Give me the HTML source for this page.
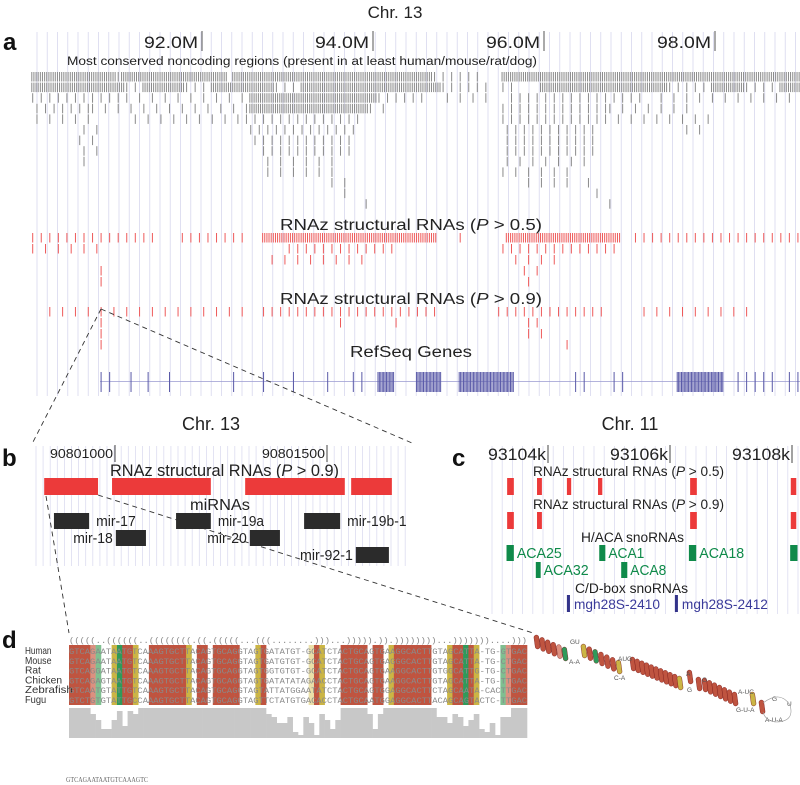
<!DOCTYPE html>
<html><head><meta charset="utf-8"><style>
html,body{margin:0;padding:0;background:#fff;}
svg{display:block;font-family:"Liberation Sans",sans-serif;}
.mono{font-family:"Liberation Mono",monospace;}
</style></head><body>
<svg id="fig" width="800" height="785" viewBox="0 0 800 785" xmlns="http://www.w3.org/2000/svg">
  <g id="gridA"></g>
  <g id="gridB"></g>
  <g id="gridC"></g>

  <text x="395" y="18" font-size="17" text-anchor="middle" fill="#222">Chr. 13</text>
  <text x="3" y="50" font-size="24" font-weight="bold" fill="#111">a</text>
  <g id="axisA"></g>
  <text x="67" y="65" font-size="11.5" textLength="470" lengthAdjust="spacingAndGlyphs" fill="#222">Most conserved noncoding regions (present in at least human/mouse/rat/dog)</text>
  <g id="consA"></g>
  <text x="280" y="230" font-size="15.5" textLength="262" lengthAdjust="spacingAndGlyphs" fill="#222">RNAz structural RNAs (<tspan font-style="italic">P</tspan> &gt; 0.5)</text>
  <g id="r05A"></g>
  <text x="280" y="304" font-size="15.5" textLength="262" lengthAdjust="spacingAndGlyphs" fill="#222">RNAz structural RNAs (<tspan font-style="italic">P</tspan> &gt; 0.9)</text>
  <g id="r09A"></g>
  <text x="350" y="357" font-size="15.5" textLength="122" lengthAdjust="spacingAndGlyphs" fill="#222">RefSeq Genes</text>
  <g id="genesA"></g>

  <g stroke="#333" stroke-width="0.9" stroke-dasharray="5,4" fill="none">
    <line x1="101" y1="309" x2="33" y2="442"/>
    <line x1="101" y1="309" x2="412" y2="443"/>
    <line x1="46" y1="496" x2="69" y2="633"/>
    <line x1="98" y1="495" x2="533" y2="633"/>
  </g>

  <text x="211" y="430" font-size="18" text-anchor="middle" fill="#222">Chr. 13</text>
  <text x="2" y="466" font-size="24" font-weight="bold" fill="#111">b</text>
  <g id="axisB"></g>
  <text x="110" y="476" font-size="16.5" textLength="229" lengthAdjust="spacingAndGlyphs" fill="#222">RNAz structural RNAs (<tspan font-style="italic">P</tspan> &gt; 0.9)</text>
  <g id="rnazB"></g>
  <text x="190" y="510" font-size="15.5" textLength="60" lengthAdjust="spacingAndGlyphs" fill="#222">miRNAs</text>
  <g id="mirB"></g>

  <text x="630" y="430" font-size="18" text-anchor="middle" fill="#222">Chr. 11</text>
  <text x="452" y="466" font-size="24" font-weight="bold" fill="#111">c</text>
  <g id="axisC"></g>
  <text x="533" y="476" font-size="13.5" textLength="191" lengthAdjust="spacingAndGlyphs" fill="#222">RNAz structural RNAs (<tspan font-style="italic">P</tspan> &gt; 0.5)</text>
  <text x="533" y="509" font-size="13.5" textLength="191" lengthAdjust="spacingAndGlyphs" fill="#222">RNAz structural RNAs (<tspan font-style="italic">P</tspan> &gt; 0.9)</text>
  <text x="581" y="542" font-size="13.5" textLength="103" lengthAdjust="spacingAndGlyphs" fill="#222">H/ACA snoRNAs</text>
  <text x="575" y="593" font-size="13.5" textLength="113" lengthAdjust="spacingAndGlyphs" fill="#222">C/D-box snoRNAs</text>
  <g id="featC"></g>

  <text x="2" y="648" font-size="24" font-weight="bold" fill="#111">d</text>
  <g id="alignD"></g>
  <g id="consD"></g>
  <g id="structD"></g>
  <text x="66" y="782" font-size="7" font-family="Liberation Serif, serif" fill="#666" textLength="82" lengthAdjust="spacingAndGlyphs">GTCAGAATAATGTCAAAGTC</text>
</svg>
<script>
// ---------- panel a data ----------
const axisTicksA = [92.0, 94.0, 96.0, 98.0];
const axisLabelsA = ["92.0M", "94.0M", "96.0M", "98.0M"];
const conservedRows = [
  "#20 |1 #25 .1 #47 s11 .5 #70",
  "#22 s4 #10 s6 #15 s6 #33 s12 .2 s4 .5 #30 s10 #8 s8 #10 s6",
  "s22 t29 #30 s12 .4 t10 .5 s32 .3 t35",
  ".1 s13 t37 #28 t4 .27 s25 t20 .25",
  ".1 t13 .10 t26 s27 .33 s24 t25 .21",
  ".12 t4 .35 s26 .34 s22 .20 t6 .21",
  ".11 t5 .36 s24 .35 s21 .48",
  ".12 t4 .38 s22 .35 s21 .48",
  ".12 t3 .40 t18 .38 t20 .49",
  ".55 t16 .39 t18 .52",
  ".70 t6 .40 t10 .4 t2 .48",
  ".73 t2 .57 t2 .46",
  ".78 |1 .56 |1 .44"
];
const rnaz05Rows = [
  "s29 .6 s16 .3 #41 .5 t3 .8 #27 .3 s40",
  "t17 .43 s26 .24 s27 .43",
  ".56 t23 .34 t12 .55",
  ".16 |1 .98 t5 .60",
  ".16 |1 .99 |1 .63"
];
const rnaz09Rows = [
  ".4 t47 .3 s41 .14 s26 .8 t26 .11",
  ".16 |1 .55 t3 .10 t3 .28 s4 .60",
  ".16 |1 .99 t4 .60",
  ".16 |1 .108 |1 .54"
];
const geneRow = ".16 s3 .4 |1 .3 |1 .4 |1 .14 |1 .6 |1 .6 |1 .7 |1 .5 s4 .2 #4 .5 #6 .4 #13 .14 s4 .5 s4 .11 #11 .3 s9 .3 s6";

// ---------- panel b data ----------
const axisTicksB = [1000, 1500];
const axisLabelsB = ["90801000", "90801500"];
const rnazStartB = [833, 993, 1307, 1557];
const rnazEndB = [960, 1226, 1542, 1653];
const mirNames = ["mir-17", "mir-19a", "mir-19b-1", "mir-18", "mir-20", "mir-92-1"];
const mirStart = [856, 1144, 1446, 1002, 1318, 1568];
const mirEnd = [939, 1226, 1531, 1073, 1389, 1646];
const mirRow = [0, 0, 0, 1, 1, 2];
const mirLabelSide = ["right", "right", "right", "left", "left", "left"];

// ---------- panel c data ----------
const axisTicksC = [4, 6, 8];
const axisLabelsC = ["93104k", "93106k", "93108k"];
const r05Start = [3.33, 3.82, 4.31, 4.82, 6.33, 7.98];
const r05End = [3.44, 3.90, 4.38, 4.89, 6.44, 8.07];
const r09Start = [3.33, 3.82, 6.33, 7.98];
const r09End = [3.44, 3.90, 6.44, 8.07];
const acaNames = ["ACA25", "ACA1", "ACA18", "", "ACA32", "ACA8", "ACA40"];
const acaStart = [3.32, 4.84, 6.31, 7.97, 3.80, 5.20, 9.2];
const acaEnd = [3.44, 4.94, 6.43, 8.09, 3.88, 5.30, 9.2];
const acaRow = [0, 0, 0, 0, 1, 1, 1];
const cdNames = ["mgh28S-2410", "mgh28S-2412"];
const cdStart = [4.31, 6.08];
const cdEnd = [4.36, 6.13];

// ---------- panel d data ----------
const speciesNames = ["Human", "Mouse", "Rat", "Chicken", "Zebrafish", "Fugu"];
const sequences = [
  "GTCAGAATAATGTCAAAGTGCTTACAGTGCAGGTAGTGATATGT-GCATCTACTGCAGTGAAGGCACTTGTAGCATTA-TG-GTGAC",
  "GTCAGAATAATGTCAAAGTGCTTACAGTGCAGGTAGTGATGTGT-GCATCTACTGCAGTGAGGGCACTTGTAGCATTA-TG-CTGAC",
  "GTCAGGATAATGTCAAAGTGCTTACAGTGCAGGTAGTGGTGTGT-GCATCTACTGCAGTGAAGGCACTTGTGGCATTG-TG-CTGAC",
  "GTCAGAGTAATGTCAAAGTGCTTACAGTGCAGGTAGTGATATATAGAACCTACTGCAGTGAAGGCACTTGTAGCATTA-TG-TTGAC",
  "GTCAATGTATTGTCAAAGTGCTTACAGTGCAGGTAGTATTATGGAATATCTACTGCAGTGGAGGCACTTCTAGCAATA-CACTTGAC",
  "GTCTGTGTATTGCCAAAGTGCTTACAGTGCAGGTAGTTCTATGTGACACCTACTGCAATGGAGGCACTTACAGCAGTACTC-TTGAC"
];
const structureString = "(((((..((((((..((((((((.((.(((((...(((........)))...))))).)).))))))))...)))))))....)))))";
const columnClasses = "RRRRpg..YGRRY..RRRRRRRY.RR.RRRRR...YR........yRY...RRRRR.RR.YRRRRRRR...YRRGRY....gpRRR";
const conservationDips = [0,0,0,0,2,4,7,7,4,1,6,1,2,0,0,0,0,0,0,0,0,0,0,0,0,0,0,0,0,0,0,0,0,0,0,0,0,2,3,5,5,3,8,9,3,5,9,2,4,7,4,0,0,0,0,0,2,7,2,0,0,0,0,0,0,0,0,0,0,3,3,5,2,3,6,4,2,7,8,5,9,3,3,0,0,0];

// ---------- helpers ----------
const NS = "http://www.w3.org/2000/svg";
function mk(tag, attrs, parent) {
  const e = document.createElementNS(NS, tag);
  for (const k in attrs) e.setAttribute(k, attrs[k]);
  parent.appendChild(e);
  return e;
}
function expandRLE(str) {
  const out = [];
  str.trim().split(/\s+/).forEach(tok => {
    const c = tok[0], n = parseInt(tok.slice(1), 10);
    for (let i = 0; i < n; i++) {
      if (c === 's') out.push(i % 2 === 0 ? '|' : '.');
      else if (c === 't') out.push(i % 3 === 0 ? '|' : '.');
      else out.push(c);
    }
  });
  return out.slice(0, 180);
}
const xA = mb => 202 + (mb - 92) * 85.5;
const binX = i => xA(90 + i * 0.05);
const xB = bp => 115 + (bp - 1000) * 0.424;
const xC = kb => 548 + (kb - 4) * 61;

// ---------- grids ----------
const gA = document.getElementById("gridA");
for (let x = 37; x <= 800; x += 10.25) mk("line", {x1: x, x2: x, y1: 32, y2: 396, stroke: "#dcdcf0", "stroke-width": 0.9}, gA);
const gB = document.getElementById("gridB");
for (let x = 36; x <= 410; x += 7.1) mk("line", {x1: x, x2: x, y1: 446, y2: 566, stroke: "#dcdcf0", "stroke-width": 0.8}, gB);
const gC = document.getElementById("gridC");
for (let x = 492; x <= 800; x += 10.2) mk("line", {x1: x, x2: x, y1: 446, y2: 614, stroke: "#dcdcf0", "stroke-width": 0.8}, gC);

// ---------- panel a ----------
const axA = document.getElementById("axisA");
axisTicksA.forEach((t, i) => {
  const x = xA(t);
  const tk = mk("line", {x1: x, x2: x, y1: 31, y2: 51, stroke: "#555", "stroke-width": 1}, axA);
  
  
  const lb = mk("text", {x: x - 4, y: 48, "font-size": 16.5, "text-anchor": "end", fill: "#222", textLength: 54, lengthAdjust: "spacingAndGlyphs"}, axA);
  lb.textContent = axisLabelsA[i];
  
  
});
function drawRows(rows, parent, y0, dy, h, color, name) {
  rows.forEach((row, r) => {
    const bins = expandRLE(row);
    const y = y0 + r * dy;
    bins.forEach((c, i) => {
      const x = binX(i);
      const xs = c === '#' ? [x + 0.3, x + 2.4] : (c === '|' ? [x + 1.2] : []);
      xs.forEach(xx => {
        const t = mk("rect", {x: xx.toFixed(2), y: y, width: 1, height: h, fill: color}, parent);
        
        
      });
    });
  });
}
drawRows(conservedRows, document.getElementById("consA"), 72, 10.6, 9.5, "#8a8a8a", "conserved-region");
drawRows(rnaz05Rows, document.getElementById("r05A"), 233, 11, 9.5, "#ee5a5a", "rnaz-05-hit");
drawRows(rnaz09Rows, document.getElementById("r09A"), 307, 11, 9.5, "#ee5a5a", "rnaz-09-hit");
const gGenes = document.getElementById("genesA");
const intron = mk("line", {x1: 100, x2: 800, y1: 381.5, y2: 381.5, stroke: "#9a9ad0", "stroke-width": 0.8}, gGenes);


expandRLE(geneRow).forEach((c, i) => {
  if (c === '.') return;
  const x = binX(i);
  const xs = c === '#' ? [x + 0.2, x + 1.6, x + 3.0] : [x + 1.2];
  xs.forEach(xx => {
    const e = mk("rect", {x: xx.toFixed(2), y: 372, width: 1, height: 20, fill: "#5a5aa8"}, gGenes);
    
    
  });
});

// ---------- panel b ----------
const axB = document.getElementById("axisB");
axisTicksB.forEach((t, i) => {
  const x = xB(t);
  const tk = mk("line", {x1: x, x2: x, y1: 445, y2: 462, stroke: "#444", "stroke-width": 1}, axB);
  
  
  const lb = mk("text", {x: x - 2, y: 458, "font-size": 13, "text-anchor": "end", fill: "#222", textLength: 63, lengthAdjust: "spacingAndGlyphs"}, axB);
  lb.textContent = axisLabelsB[i];
  
  
});
const rB = document.getElementById("rnazB");
rnazStartB.forEach((s, i) => {
  const r = mk("rect", {x: xB(s), y: 478, width: xB(rnazEndB[i]) - xB(s), height: 17, fill: "#ec3a3a"}, rB);
  
  
});
const mB = document.getElementById("mirB");
mirNames.forEach((n, i) => {
  const x0 = xB(mirStart[i]), x1 = xB(mirEnd[i]);
  const y = 513 + mirRow[i] * 17;
  const r = mk("rect", {x: x0, y: y, width: x1 - x0, height: 16, fill: "#2b2b2b"}, mB);
  
  
  const right = mirLabelSide[i] === "right";
  const t = mk("text", {x: right ? x1 + 7 : x0 - 3, y: y + 13, "font-size": 14.5, "text-anchor": right ? "start" : "end", fill: "#222", textLength: n.length * 6.6, lengthAdjust: "spacingAndGlyphs"}, mB);
  t.textContent = n;
  
  
});

// ---------- panel c ----------
const axC = document.getElementById("axisC");
axisTicksC.forEach((t, i) => {
  const x = xC(t);
  const tk = mk("line", {x1: x, x2: x, y1: 445, y2: 463, stroke: "#444", "stroke-width": 1}, axC);
  
  
  const lb = mk("text", {x: x - 2, y: 460, "font-size": 17, "text-anchor": "end", fill: "#222", textLength: 58, lengthAdjust: "spacingAndGlyphs"}, axC);
  lb.textContent = axisLabelsC[i];
  
  
});
const fC = document.getElementById("featC");
r05Start.forEach((s, i) => {
  const r = mk("rect", {x: xC(s), y: 478, width: xC(r05End[i]) - xC(s), height: 17, fill: "#ec3a3a"}, fC);
  
  
});
r09Start.forEach((s, i) => {
  const r = mk("rect", {x: xC(s), y: 512, width: xC(r09End[i]) - xC(s), height: 17, fill: "#ec3a3a"}, fC);
  
  
});
acaNames.forEach((n, i) => {
  const y = 545 + acaRow[i] * 17;
  const x0 = xC(acaStart[i]), x1 = xC(acaEnd[i]);
  if (x1 > x0) {
    const r = mk("rect", {x: x0, y: y, width: x1 - x0, height: 16, fill: "#0f8a4a"}, fC);
    
    
  }
  if (n) {
    const t = mk("text", {x: x1 + 3, y: y + 13, "font-size": 14.5, fill: "#0f8a4a", textLength: n.length * 9, lengthAdjust: "spacingAndGlyphs"}, fC);
    t.textContent = n;
    
    
  }
});
cdNames.forEach((n, i) => {
  const x0 = xC(cdStart[i]), x1 = xC(cdEnd[i]);
  const r = mk("rect", {x: x0, y: 595, width: x1 - x0, height: 17, fill: "#33338a"}, fC);
  
  
  const t = mk("text", {x: x1 + 4, y: 609, "font-size": 14, fill: "#3a3a9a", textLength: 86, lengthAdjust: "spacingAndGlyphs"}, fC);
  t.textContent = n;
  
  
});

// ---------- panel d ----------
const aD = document.getElementById("alignD");
const colW = 458 / 86, ax0 = 69;
const colFill = {R: "#bf5440", p: "#dc9080", g: "#7fbf90", G: "#2f9a5a", Y: "#cbb545", y: "#eadfa8"};
columnClasses.split("").forEach((c, i) => {
  if (!colFill[c]) return;
  const r = mk("rect", {x: ax0 + i * colW, y: 645, width: colW + 0.3, height: 60, fill: colFill[c]}, aD);
  
  
});
const st = mk("text", {x: ax0, y: 643, "font-size": 8, fill: "#888", class: "mono", textLength: 458, lengthAdjust: "spacingAndGlyphs"}, aD);
st.textContent = structureString.slice(0, 86);


speciesNames.forEach((n, i) => {
  const y = 654 + i * 9.8;
  const l = mk("text", {x: 25, y: y, "font-size": 10.5, fill: "#333", textLength: n.length * 5.3, lengthAdjust: "spacingAndGlyphs"}, aD);
  l.textContent = n;
  
  
  const s = mk("text", {x: ax0, y: y, "font-size": 8.6, fill: "#8a8a8a", class: "mono", textLength: 458, lengthAdjust: "spacingAndGlyphs"}, aD);
  s.textContent = sequences[i];
  
  
});
const cD = document.getElementById("consD");
for (let i = 0; i < 86; i++) {
  const dip = conservationDips[i] || 0;
  const top = 708 + dip * 3;
  const r = mk("rect", {x: ax0 + i * colW, y: top, width: colW + 0.3, height: 738 - top, fill: "#c8c8c8"}, cD);
  
  
}

// secondary structure
const sD = document.getElementById("structD");
const stems = [
  {x0: 537, y0: 642, x1: 565, y1: 654, cols: "RRRRpG"},
  {x0: 584, y0: 651, x1: 619, y1: 667, cols: "YRGRRRY"},
  {x0: 633, y0: 664, x1: 680, y1: 683, cols: "RRRRRRRRRRY"},
  {x0: 690, y0: 677, x1: 699, y1: 684, cols: "RR"},
  {x0: 705, y0: 685, x1: 735, y1: 699, cols: "RRRRRRR"},
  {x0: 753, y0: 699, x1: 762, y1: 707, cols: "YR"}
];
stems.forEach(s => {
  const n = s.cols.length;
  for (let k = 0; k < n; k++) {
    const f = n === 1 ? 0 : k / (n - 1);
    const cx = s.x0 + (s.x1 - s.x0) * f, cy = s.y0 + (s.y1 - s.y0) * f;
    const e = mk("rect", {x: cx - 2.4, y: cy - 7, width: 4.8, height: 14, rx: 2.3, fill: colFill[s.cols[k]] || "#c03030", stroke: "#7a1a1a", "stroke-width": 0.4, transform: `rotate(-8 ${cx} ${cy})`}, sD);
    
    
  }
});
const loopLabels = [["GU", 570, 644], ["A-A", 569, 664], ["AUG", 618, 661], ["C-A", 614, 680], ["A", 686, 676], ["G", 687, 692], ["G", 702, 682], ["A-UC", 738, 694], ["G-U-A", 736, 712], ["G", 772, 701], ["U", 787, 706], ["A-U-A", 765, 722]];
loopLabels.forEach(l => {
  const t = mk("text", {x: l[1], y: l[2], "font-size": 6.5, fill: "#555"}, sD);
  t.textContent = l[0];
  
  
});
const loop = mk("path", {d: "M763 703 Q780 690 790 705 Q795 722 775 722 Q765 720 763 712", fill: "none", stroke: "#999", "stroke-width": 0.6}, sD);


</script>
</body></html>
